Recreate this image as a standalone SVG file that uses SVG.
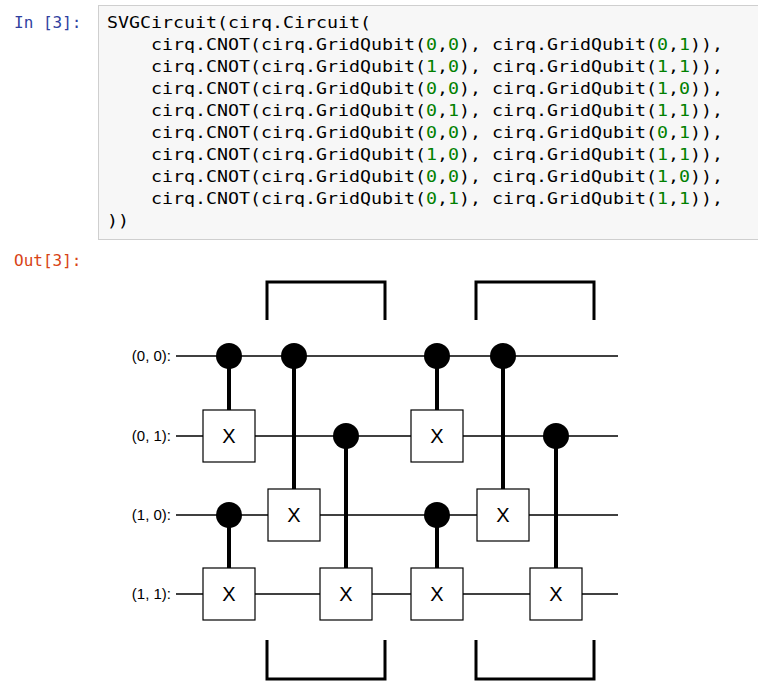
<svg xmlns="http://www.w3.org/2000/svg" width="758" height="699" viewBox="0 0 758 699">
<style>
.code{font-family:"DejaVu Sans Mono",monospace;font-size:16px;fill:#000}
.n{fill:#008000}
.lbl{font-family:"Liberation Sans",Arial,sans-serif;font-size:15px;fill:#000;text-anchor:end}
.x{font-family:"Liberation Sans",Arial,sans-serif;font-size:20px;fill:#000;text-anchor:middle}
.w{stroke:#000;stroke-width:1.5}
.c{stroke:#000;stroke-width:4}
.b{fill:#fff;stroke:#000;stroke-width:1.2}
.br{fill:none;stroke:#000;stroke-width:3}
</style>
<rect width="758" height="699" fill="#fff"/>
<g id="code">
<rect x="98.5" y="5.5" width="665" height="234" fill="#f7f7f7" stroke="#cfcfcf"/>
<text x="14" y="28" class="code" fill="#303f9f" style="fill:#303f9f">In [3]:</text>
<text x="14" y="266" class="code" style="fill:#d84315">Out[3]:</text>
<text x="107" y="28" class="code" textLength="264" lengthAdjust="spacingAndGlyphs">SVGCircuit(cirq.Circuit(</text>
<text x="151" y="50" class="code" textLength="572" lengthAdjust="spacingAndGlyphs">cirq.CNOT(cirq.GridQubit(<tspan class="n">0</tspan>,<tspan class="n">0</tspan>), cirq.GridQubit(<tspan class="n">0</tspan>,<tspan class="n">1</tspan>)),</text>
<text x="151" y="72" class="code" textLength="572" lengthAdjust="spacingAndGlyphs">cirq.CNOT(cirq.GridQubit(<tspan class="n">1</tspan>,<tspan class="n">0</tspan>), cirq.GridQubit(<tspan class="n">1</tspan>,<tspan class="n">1</tspan>)),</text>
<text x="151" y="94" class="code" textLength="572" lengthAdjust="spacingAndGlyphs">cirq.CNOT(cirq.GridQubit(<tspan class="n">0</tspan>,<tspan class="n">0</tspan>), cirq.GridQubit(<tspan class="n">1</tspan>,<tspan class="n">0</tspan>)),</text>
<text x="151" y="116" class="code" textLength="572" lengthAdjust="spacingAndGlyphs">cirq.CNOT(cirq.GridQubit(<tspan class="n">0</tspan>,<tspan class="n">1</tspan>), cirq.GridQubit(<tspan class="n">1</tspan>,<tspan class="n">1</tspan>)),</text>
<text x="151" y="138" class="code" textLength="572" lengthAdjust="spacingAndGlyphs">cirq.CNOT(cirq.GridQubit(<tspan class="n">0</tspan>,<tspan class="n">0</tspan>), cirq.GridQubit(<tspan class="n">0</tspan>,<tspan class="n">1</tspan>)),</text>
<text x="151" y="160" class="code" textLength="572" lengthAdjust="spacingAndGlyphs">cirq.CNOT(cirq.GridQubit(<tspan class="n">1</tspan>,<tspan class="n">0</tspan>), cirq.GridQubit(<tspan class="n">1</tspan>,<tspan class="n">1</tspan>)),</text>
<text x="151" y="182" class="code" textLength="572" lengthAdjust="spacingAndGlyphs">cirq.CNOT(cirq.GridQubit(<tspan class="n">0</tspan>,<tspan class="n">0</tspan>), cirq.GridQubit(<tspan class="n">1</tspan>,<tspan class="n">0</tspan>)),</text>
<text x="151" y="204" class="code" textLength="572" lengthAdjust="spacingAndGlyphs">cirq.CNOT(cirq.GridQubit(<tspan class="n">0</tspan>,<tspan class="n">1</tspan>), cirq.GridQubit(<tspan class="n">1</tspan>,<tspan class="n">1</tspan>)),</text>
<text x="107" y="226" class="code" textLength="22" lengthAdjust="spacingAndGlyphs">))</text>
</g>
<g id="connectors">
<line class="w" x1="176" y1="356" x2="618" y2="356"/>
<line class="w" x1="176" y1="436" x2="618" y2="436"/>
<line class="w" x1="176" y1="515" x2="618" y2="515"/>
<line class="w" x1="176" y1="594" x2="618" y2="594"/>
<line class="c" x1="229" y1="356" x2="229" y2="410"/>
<line class="c" x1="229" y1="515" x2="229" y2="568"/>
<line class="c" x1="294" y1="356" x2="294" y2="489"/>
<line class="c" x1="346" y1="436" x2="346" y2="568"/>
<line class="c" x1="437" y1="356" x2="437" y2="410"/>
<line class="c" x1="437" y1="515" x2="437" y2="568"/>
<line class="c" x1="503" y1="356" x2="503" y2="489"/>
<line class="c" x1="556" y1="436" x2="556" y2="568"/>
</g>
<g id="labels">
<text class="lbl" x="171" y="361">(0, 0):</text>
<text class="lbl" x="171" y="441">(0, 1):</text>
<text class="lbl" x="171" y="520">(1, 0):</text>
<text class="lbl" x="171" y="599">(1, 1):</text>
</g>
<g id="controls" fill="#000">
<circle cx="229" cy="356" r="13"/><circle cx="229" cy="515" r="13"/>
<circle cx="294" cy="356" r="13"/><circle cx="346" cy="436" r="13"/>
<circle cx="437" cy="356" r="13"/><circle cx="437" cy="515" r="13"/>
<circle cx="503" cy="356" r="13"/><circle cx="556" cy="436" r="13"/>
</g>
<g id="g1"><rect class="b" x="203" y="410" width="52" height="52"/><text class="x" x="229" y="443">X</text></g>
<g id="g2"><rect class="b" x="203" y="568" width="52" height="52"/><text class="x" x="229" y="601">X</text></g>
<g id="g3"><rect class="b" x="268" y="489" width="52" height="52"/><text class="x" x="294" y="522">X</text></g>
<g id="g4"><rect class="b" x="320" y="568" width="52" height="52"/><text class="x" x="346" y="601">X</text></g>
<g id="g5"><rect class="b" x="411" y="410" width="52" height="52"/><text class="x" x="437" y="443">X</text></g>
<g id="g6"><rect class="b" x="411" y="568" width="52" height="52"/><text class="x" x="437" y="601">X</text></g>
<g id="g7"><rect class="b" x="477" y="489" width="52" height="52"/><text class="x" x="503" y="522">X</text></g>
<g id="g8"><rect class="b" x="530" y="568" width="52" height="52"/><text class="x" x="556" y="601">X</text></g>
<g id="brackets">
<path class="br" d="M267 320V282H385V320"/>
<path class="br" d="M476 320V282H594V320"/>
<path class="br" d="M267 640V679H385V640"/>
<path class="br" d="M476 640V679H594V640"/>
</g>
</svg>
